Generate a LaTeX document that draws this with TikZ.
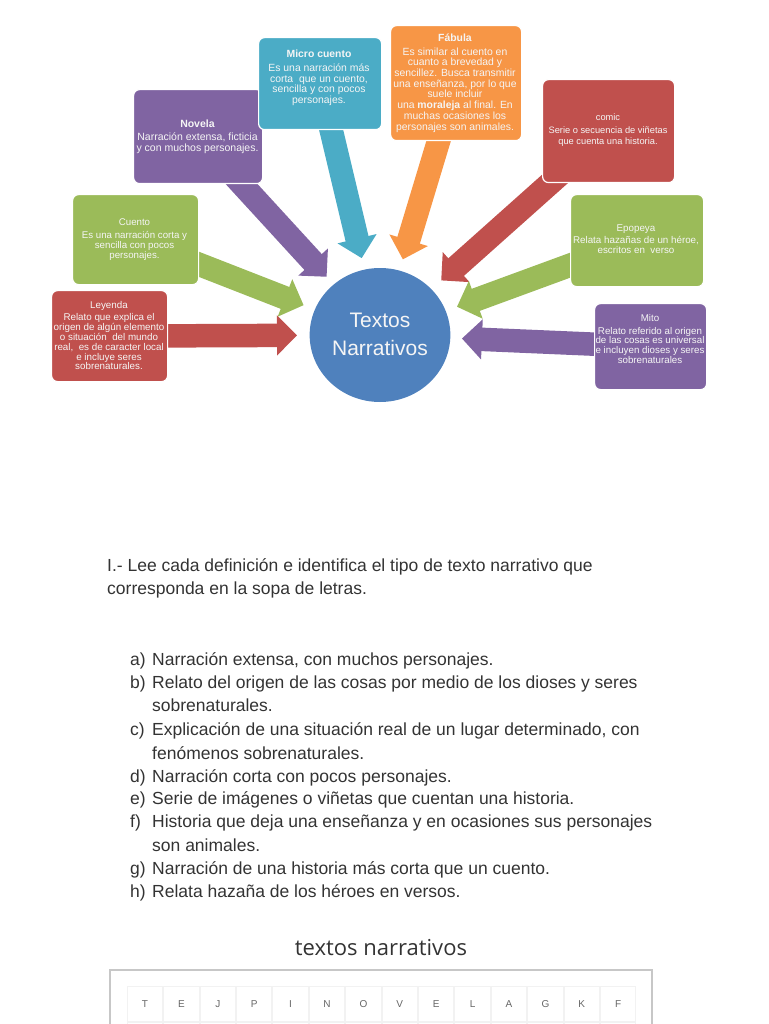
\documentclass[tikz,border=0pt]{standalone}
\usepackage{fontspec}
\setmainfont{Liberation Sans}
\newfontfamily\titlefont{Open Sans}
\usetikzlibrary{arrows.meta,backgrounds}
\definecolor{cred}{HTML}{C0504D}
\definecolor{cgreen}{HTML}{9BBB59}
\definecolor{cpurple}{HTML}{8064A2}
\definecolor{cteal}{HTML}{4BACC6}
\definecolor{corange}{HTML}{F79646}
\definecolor{cblue}{HTML}{4F81BD}
\definecolor{ink}{HTML}{333333}
\tikzset{
  box/.style={fill=#1,draw=white,line width=1.2pt,rounded corners=6pt,inner sep=0pt,anchor=north west},
  boxtext/.style={text=white!96!black,align=center,inner sep=0pt,font=\fontsize{9.8}{9.8}\selectfont},
  fatarrow/.style={draw=#1,line width=23.5pt,-{Triangle[length=20pt,width=39pt]}},
  para/.style={anchor=base west,inner sep=0pt,text=ink,font=\fontsize{17.5}{19}\selectfont},
  cell/.style={draw=black!5,line width=1pt,fill=white,minimum width=35.4pt,minimum height=35.4pt,inner sep=0pt,text=black!60,font=\fontsize{10}{12}\selectfont},
}
\begin{document}
\begin{tikzpicture}[x=1pt,y=-1pt]
\useasboundingbox (0,0) rectangle (768,1024);
% boxes
\node[box=cred,minimum width=116pt,minimum height=91pt] (leyenda) at (51,290) {};
\node[box=cgreen,minimum width=126pt,minimum height=90pt] (cuento) at (72,194) {};
\node[box=cpurple,minimum width=129pt,minimum height=94pt] (novela) at (133,89) {};
\node[box=cteal,minimum width=123pt,minimum height=92pt] (micro) at (258,37) {};
\node[box=corange,minimum width=131pt,minimum height=115pt] (fabula) at (390,25) {};
\node[box=cred,minimum width=132pt,minimum height=103pt] (comic) at (542,79) {};
\node[box=cgreen,minimum width=133pt,minimum height=92pt] (epopeya) at (570,194) {};
\node[box=cpurple,minimum width=112pt,minimum height=86pt] (mito) at (594,303) {};
\node[circle,fill=cblue,draw=none,minimum size=134pt,inner sep=0pt,xscale=1.05] (hub) at (380,335) {};
% connectors
\begin{scope}[on background layer]
\draw[fatarrow=cred,shorten >=83pt] (leyenda.center) -- (hub.center);
\draw[fatarrow=cgreen,shorten >=82pt] (cuento.center) -- (hub.center);
\draw[fatarrow=cpurple,shorten >=79pt] (novela.center) -- (hub.center);
\draw[fatarrow=cteal,shorten >=79pt] (micro.center) -- (hub.center);
\draw[fatarrow=corange,shorten >=79pt] (fabula.center) -- (hub.center);
\draw[fatarrow=cred,shorten >=82pt] (comic.center) -- (hub.center);
\draw[fatarrow=cgreen,shorten >=82pt] (epopeya.center) -- (hub.center);
\draw[fatarrow=cpurple,shorten >=82pt] (mito.center) -- (hub.center);
\end{scope}
% box texts
\node[boxtext] (leyendaT) at (109,335.5) {Leyenda\\[3pt]Relato que explica el\\origen de algún elemento\\o situación~ del mundo\\real,~ es de caracter local\\e incluye seres\\sobrenaturales.};
\node[boxtext,font=\fontsize{9.7}{10}\selectfont] (cuentoT) at (134.5,240) {Cuento\\[3pt]Es una narración corta y\\sencilla con pocos\\personajes.};
\node[boxtext,font=\fontsize{10.5}{10.5}\selectfont] (novelaT) at (197.5,136.5) {\textbf{Novela}\\[3pt]Narración extensa, ficticia\\y con muchos personajes.};
\node[boxtext,font=\fontsize{10.4}{10.6}\selectfont] (microT) at (319,78) {\textbf{Micro cuento}\\[3pt]Es una narración más\\corta~ que un cuento,\\sencilla y con pocos\\personajes.};
\node[boxtext,font=\fontsize{10.4}{10.7}\selectfont] (fabulaT) at (455,83) {\textbf{Fábula}\\[3pt]Es similar al cuento en\\cuanto a brevedad y\\sencillez. Busca transmitir\\una enseñanza, por lo que\\suele incluir\\una \textbf{moraleja} al final. En\\muchas ocasiones los\\personajes son animales.};
\node[boxtext,font=\fontsize{9.3}{10.5}\selectfont] (comicT) at (608,130) {comic\\[3pt]Serie o secuencia de viñetas\\que cuenta una historia.};
\node[boxtext,font=\fontsize{9.8}{9.8}\selectfont] (epopeyaT) at (636,239) {Epopeya\\[3pt]Relata hazañas de un héroe,\\escritos en~ verso};
\node[boxtext,font=\fontsize{9.75}{9.8}\selectfont] (mitoT) at (650,339) {Mito\\[3pt]Relato referido al origen\\de las cosas es universal\\e incluyen dioses y seres\\sobrenaturales};
\node[boxtext,font=\fontsize{21}{28}\selectfont] (hubT) at (380,334) {Textos\\Narrativos};
% exercise text
\node[para] (intro1) at (107,571) {I.- Lee cada definición e identifica el tipo de texto narrativo que};
\node[para] (intro2) at (107,594) {corresponda en la sopa de letras.};
\node[para] (la) at (130,665) {a)};
\node[para] (ta) at (152,665) {Narración extensa, con muchos personajes.};
\node[para] (lb) at (130,688) {b)};
\node[para] (tb) at (152,688) {Relato del origen de las cosas por medio de los dioses y seres};
\node[para] (tb2) at (152,711) {sobrenaturales.};
\node[para] (lc) at (130,735) {c)};
\node[para] (tc) at (152,735) {Explicación de una situación real de un lugar determinado, con};
\node[para] (tc2) at (152,759) {fenómenos sobrenaturales.};
\node[para] (ld) at (130,782) {d)};
\node[para] (td) at (152,782) {Narración corta con pocos personajes.};
\node[para] (le) at (130,804) {e)};
\node[para] (te) at (152,804) {Serie de imágenes o viñetas que cuentan una historia.};
\node[para] (lf) at (130,827) {f)};
\node[para] (tf) at (152,827) {Historia que deja una enseñanza y en ocasiones sus personajes};
\node[para] (tf2) at (152,851) {son animales.};
\node[para] (lg) at (130,874) {g)};
\node[para] (tg) at (152,874) {Narración de una historia más corta que un cuento.};
\node[para] (lh) at (130,897) {h)};
\node[para] (th) at (152,897) {Relata hazaña de los héroes en versos.};
% word search
\node[inner sep=0pt,text=ink,font=\titlefont\fontsize{22}{26}\selectfont] (wstitle) at (381,948) {textos narrativos};
\draw[black!22,line width=1.2pt] (110,1030) |- (652,970) -- (652,1030);
\foreach \ch [count=\i from 0] in {T,E,J,P,I,N,O,V,E,L,A,G,K,F}{
  \node[cell] (c\i) at (145+36.4*\i,1004) {\ch};
}
\foreach \ch [count=\i from 0] in {T,E,J,P,I,N,O,V,E,L,A,G,K,F}{
  \node[cell] (d\i) at (145+36.4*\i,1040) {};
}
\end{tikzpicture}
\end{document}
